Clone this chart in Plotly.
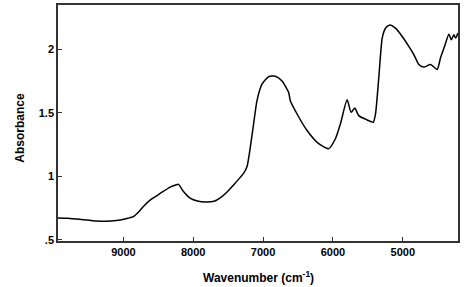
import plotly.graph_objects as go

wavenumber = [9936, 9800, 9600, 9400, 9250, 9100, 8950, 8850, 8780, 8713, 8600, 8474,
              8330, 8250, 8211, 8140, 8044, 7940, 7829, 7700, 7614, 7520, 7423, 7330, 7280,
              7231, 7183, 7136, 7088, 7016, 6921, 6825, 6729, 6634, 6610, 6514, 6371,
              6204, 6061, 5965, 5893, 5797, 5740, 5688, 5631, 5510, 5424, 5391, 5344,
              5295, 5248, 5186, 5105, 5009, 4914, 4842, 4771, 4699, 4603, 4508, 4460,
              4402, 4340, 4306, 4269, 4244, 4211]
absorbance = [0.672, 0.670, 0.660, 0.648, 0.645, 0.652, 0.668, 0.685, 0.72, 0.763, 0.82, 0.865,
              0.915, 0.932, 0.937, 0.88, 0.828, 0.805, 0.797, 0.803, 0.83, 0.875, 0.932, 0.99, 1.023,
              1.075, 1.231, 1.414, 1.596, 1.727, 1.786, 1.79, 1.752, 1.661, 1.596, 1.492, 1.362,
              1.258, 1.219, 1.297, 1.414, 1.604, 1.505, 1.539, 1.479, 1.445, 1.427, 1.492, 1.778,
              2.091, 2.169, 2.195, 2.169, 2.104, 2.026, 1.961, 1.883, 1.862, 1.883, 1.844, 1.935,
              2.026, 2.122, 2.078, 2.117, 2.091, 2.13]

x_ticks = [9000, 8000, 7000, 6000, 5000]
x_ticklabels = ["9000", "8000", "7000", "6000", "5000"]
y_ticks = [0.5, 1, 1.5, 2]
y_ticklabels = [".5", "1", "1.5", "2"]

font = "Liberation Sans, Arial, sans-serif"

fig = go.Figure()
fig.add_trace(go.Scatter(x=wavenumber, y=absorbance, mode="lines",
                         line=dict(color="black", width=1.5, shape="spline", smoothing=0.6),
                         showlegend=False, hoverinfo="skip"))

fig.update_layout(
    width=474, height=287,
    margin=dict(l=58, r=16, t=3, b=46),
    paper_bgcolor="white", plot_bgcolor="white",
    font=dict(family=font, size=11, color="black"),
    xaxis=dict(range=[9936, 4210], tickvals=x_ticks, ticktext=x_ticklabels,
               ticks="inside", ticklen=4, tickcolor="#333", tickwidth=1,
               showline=True, linecolor="#333", linewidth=1.5, mirror=True,
               showgrid=False, zeroline=False,
               tickfont=dict(family=font, size=11, color="black", weight="bold")),
    yaxis=dict(range=[0.49, 2.352], tickvals=y_ticks, ticktext=y_ticklabels,
               ticks="inside", ticklen=4, tickcolor="#333", tickwidth=1,
               showline=True, linecolor="#333", linewidth=1.5, mirror=True,
               showgrid=False, zeroline=False,
               tickfont=dict(family=font, size=11, color="black", weight="bold")),
    annotations=[
        dict(text="Wavenumber (cm<sup>-1</sup>)", x=0.5, y=-0.152, xref="paper", yref="paper",
             xanchor="center", yanchor="middle", showarrow=False,
             font=dict(family=font, size=12, color="black", weight="bold")),
        dict(text="Absorbance", x=-0.095, y=0.48, xref="paper", yref="paper",
             xanchor="center", yanchor="middle", showarrow=False, textangle=-90,
             font=dict(family=font, size=12, color="black", weight="bold")),
    ],
)

fig.write_html("out.html")
